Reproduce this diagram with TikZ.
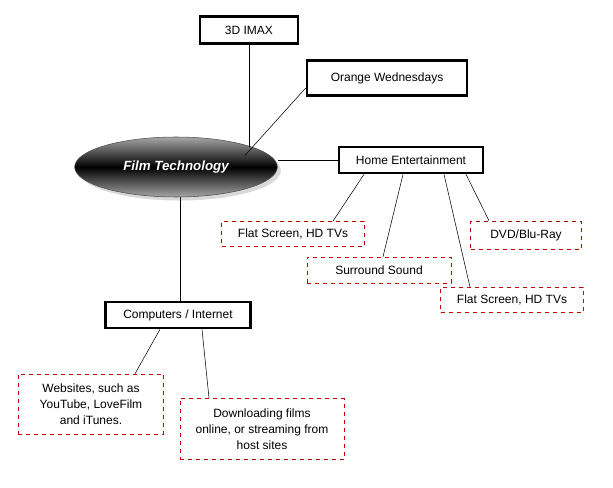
\documentclass[tikz,border=0pt]{standalone}
\usepackage{fontspec}
\setmainfont{Liberation Sans}
\usetikzlibrary{shapes.geometric,calc,shadows}
\begin{document}
\begin{tikzpicture}[x=0.75pt,y=-0.75pt,
  main/.style={rectangle, draw, line width=2pt, fill=white, inner sep=0pt, font=\fontsize{9}{11}\selectfont},
  sub/.style={rectangle, draw=red!75!black, dashed, thin, fill=white, inner sep=0pt, align=center, font=\fontsize{9}{12}\selectfont},
  link/.style={draw, thin}]
\useasboundingbox (0,0) rectangle (613,488);

\node[ellipse, minimum width=152pt, minimum height=45pt, draw=black!70, top color=gray!70, bottom color=gray!70, middle color=black, drop shadow={opacity=0.3}, text=white, font=\fontsize{10}{12}\selectfont\bfseries\itshape] (ft) at (176,167) {Film Technology};

\node[main, minimum width=73.5pt, minimum height=20pt] (imax) at (249,30) {3D IMAX};
\node[main, minimum width=120pt, minimum height=26pt] (orange) at (387,78) {Orange Wednesdays};
\node[main, minimum width=108pt, minimum height=19.5pt] (home) at (411,160) {Home Entertainment};
\node[main, minimum width=109pt, minimum height=19.5pt] (comp) at (178,315) {Computers / Internet};

\node[sub, minimum width=107pt, minimum height=19pt] (flat1) at (293,234) {Flat Screen, HD TVs};
\node[sub, minimum width=108pt, minimum height=19.5pt] (sound) at (379,270) {Surround Sound};
\node[sub, minimum width=107pt, minimum height=19pt] (flat2) at (512,300) {Flat Screen, HD TVs};
\node[sub, minimum width=83pt, minimum height=21pt] (dvd) at (526,235) {DVD/Blu-Ray};
\node[sub, minimum width=109pt, minimum height=45pt] (web) at (91,404) {Websites, such as\\YouTube, LoveFilm\\and iTunes.};
\node[sub, minimum width=123pt, minimum height=46pt] (down) at (262,429) {Downloading films\\online, or streaming from\\host sites};

\begin{scope}[on background layer/.try]
\end{scope}
\draw[link] (imax.south) -- ($(ft.north)+(73,10)$);
\draw[link] ($(orange.west)+(0,10)$) -- ($(ft.north east)+(-3,10)$);
\draw[link] ($(ft.east)+(0,-7)$) -- (home.west);
\draw[link] ($(ft.south)+(4,0)$) -- ($(comp.north)+(2,0)$);
\draw[link] ($(home.south)+(-47,0)$) -- ($(flat1.north)+(40,0)$);
\draw[link] ($(home.south)+(-8,0)$) -- ($(sound.north)+(4,0)$);
\draw[link] ($(home.south)+(33,0)$) -- ($(flat2.north)+(-42,0)$);
\draw[link] ($(home.south)+(55,0)$) -- ($(dvd.north)+(-37,0)$);
\draw[link] ($(comp.south)+(-18,0)$) -- ($(web.north)+(44,0)$);
\draw[link] ($(comp.south)+(24,0)$) -- ($(down.north)+(-53,0)$);
\end{tikzpicture}
\end{document}
